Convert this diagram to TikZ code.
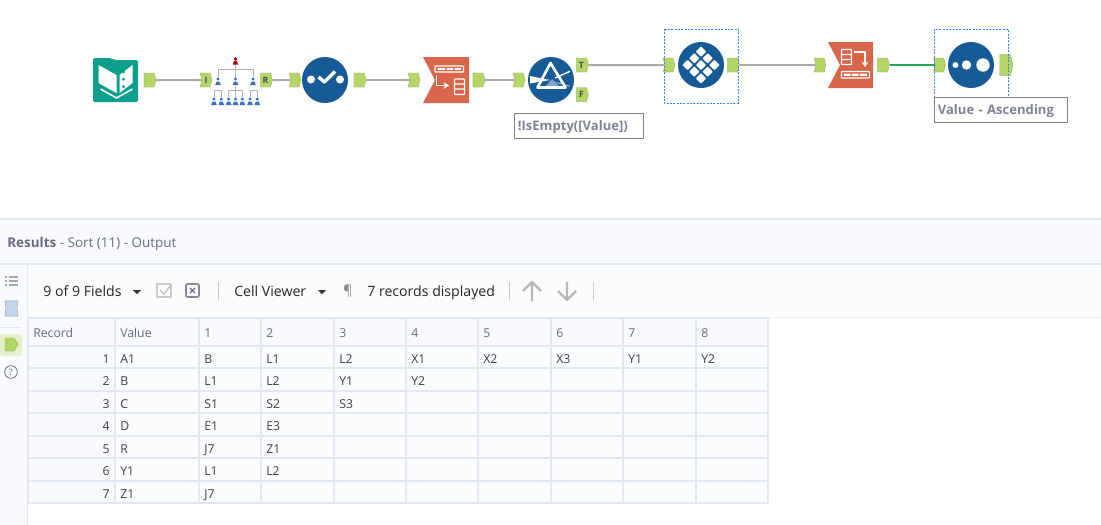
\documentclass[tikz,border=0pt]{standalone}
\usepackage{fontspec}
\setmainfont{Open Sans}
\usetikzlibrary{shapes.symbols,arrows.meta}
\definecolor{anchorgreen}{HTML}{B5D568}
\definecolor{toolblue}{HTML}{165A96}
\definecolor{toolorange}{HTML}{D9654A}
\definecolor{toolteal}{HTML}{0E9E8C}
\definecolor{linegray}{HTML}{ABABAB}
\definecolor{panelline}{HTML}{E2E8F3}
\definecolor{panelbg}{HTML}{F8FAFE}
\definecolor{celltext}{HTML}{3E3E4A}
\definecolor{headtext}{HTML}{666D80}
\definecolor{iconblue}{HTML}{3F6FBF}
\definecolor{wiregreen}{HTML}{2CA55C}
\tikzset{
	inanchor/.style={signal,signal from=west,signal pointer angle=150,fill=anchorgreen,draw=anchorgreen!80!black,line width=.2pt,minimum width=9pt,minimum height=10.5pt,inner sep=0pt,font=\fontsize{6.5}{6.5}\selectfont\bfseries,text=black!70},
	outanchor/.style={signal,signal to=east,signal pointer angle=150,fill=anchorgreen,draw=anchorgreen!80!black,line width=.2pt,minimum width=9pt,minimum height=10.5pt,inner sep=0pt,font=\fontsize{6.5}{6.5}\selectfont\bfseries,text=black!70},
	toolcircle/.style={circle,fill=toolblue,minimum size=34.5pt,inner sep=0pt},
	wire/.style={linegray,line width=1.5pt},
	selbox/.style={draw=blue!60!cyan!80,dashed,dash pattern=on 1.5pt off 1pt,line width=.6pt},
	notebox/.style={draw=black!50,line width=.8pt,fill=white,font=\fontsize{9.8}{11}\selectfont\bfseries,text=headtext!85,anchor=north west,inner sep=1.5pt,text height=9pt,text depth=2.5pt},
	celltxt/.style={font=\fontsize{9.2}{10}\selectfont,text=celltext},
	tooltxt/.style={font=\fontsize{10.6}{12}\selectfont,text=black!85,inner sep=0pt,anchor=base west},
	person/.style={fill=iconblue},
	bar/.style={draw=white,line width=1pt,rounded corners=.5pt}
}
\begin{document}
\begin{tikzpicture}[x=.75pt,y=-.75pt,line join=round]
	\useasboundingbox (0,0) rectangle (1101,525);
	\fill[white] (0,0) rectangle (1101,525);
	% panel
	\fill[panelbg] (0,219) rectangle (1101,525);
	\fill[white!50!panelbg] (28,265) rectangle (1101,317);
	\fill[white] (28,317) rectangle (1101,525);
	\draw[panelline,line width=1.5pt] (0,219)--(1101,219);
	\draw[panelline,line width=1pt] (0,264)--(1101,264);
	\draw[panelline,line width=.7pt] (27,265)--(27,525);
	\draw[panelline!60,line width=.6pt] (27,317)--(1101,317);
	\node[anchor=base west,inner sep=0pt,font=\fontsize{10.1}{12}\selectfont,text=headtext] (title) at (7,247) {\textbf{Results} - Sort (11) - Output};
	% side icons
	\foreach \y in {277,281,285} {
		\draw[headtext!60,line width=.8pt] (5,\y)--(6.5,\y) (8.5,\y)--(18,\y);
	}
	\fill[iconblue!30,draw=headtext!60,line width=.4pt] (5,301)--(18,301)--(17,308)--(18,316)--(5,316)--(6,308)--cycle;
	\draw[panelline] (0,327)--(21,327);
	\fill[anchorgreen!35,rounded corners=2pt] (0,334) rectangle (22,356);
	\fill[anchorgreen,draw=anchorgreen!80!black,line width=.3pt] (5,338)--(14,338)--(18,344)--(14,351)--(5,351)--cycle;
	\node[circle,draw=headtext,line width=.6pt,minimum size=9.5pt,inner sep=0pt,font=\fontsize{6.5}{7}\selectfont,text=headtext] (help) at (11,372) {?};
	% toolbar
	\node[tooltxt] (fields) at (43,296) {9 of 9 Fields};
	\fill[black!80] (133,290)--(141,290)--(137,294)--cycle;
	\draw[black!20,line width=1pt] (157,284) rectangle (171,297);
	\draw[black!25,line width=1pt] (160,290)--(164,294)--(171,285);
	\draw[headtext!80,line width=1.2pt,rounded corners=1pt] (186,284) rectangle (199,297);
	\draw[headtext,line width=1pt] (190,288)--(195,293) (195,288)--(190,293);
	\draw[black!20] (218,282)--(218,300);
	\node[tooltxt] (viewer) at (234,296) {Cell Viewer};
	\fill[black!80] (318,290)--(326,290)--(322,294)--cycle;
	\node[font=\fontsize{10.5}{12}\selectfont,text=black!45] (pilcrow) at (348,291) {¶};
	\node[tooltxt] (records) at (367,296) {7 records displayed};
	\draw[black!20] (509,282)--(509,300);
	\draw[black!28,line width=1.7pt] (532,301)--(532,282) (523,291)--(532,282)--(541,291);
	\draw[black!28,line width=1.7pt] (567,282)--(567,300) (558,291)--(567,300)--(576,291);
	\draw[black!20] (593,282)--(593,300);
	% table
	\fill[white!50!panelbg] (115,346) rectangle (768,503);
	\fill[panelbg] (28,319) rectangle (768,345);
	\fill[panelbg] (28,345) rectangle (115,503);
	\foreach \x in {28,115,199,261,334,406,478,551,623,696,768}
		\draw[panelline,line width=1.5pt] (\x,318)--(\x,503);
	\foreach \y in {318,346,368,391,413,436,458,481,503}
		\draw[panelline,line width=1.5pt] (28,\y)--(768,\y);
	\foreach \x/\lab in {33/Record,120/Value,204/1,266/2,339/3,411/4,483/5,556/6,628/7,701/8}
		\node[anchor=base west,inner sep=0pt,celltxt,text=headtext] at (\x,337) {\lab};
	\foreach \y/\num/\val in {363/1/A1,385/2/B,408/3/C,430/4/D,453/5/R,475/6/Y1,498/7/Z1} {
		\node[anchor=base east,inner sep=0pt,celltxt] at (110,\y) {\num};
		\node[anchor=base west,inner sep=0pt,celltxt] at (120,\y) {\val};
	}
	\foreach \x/\y/\val in {204/363/B,266/363/L1,339/363/L2,411/363/X1,483/363/X2,556/363/X3,628/363/Y1,701/363/Y2,
		204/385/L1,266/385/L2,339/385/Y1,411/385/Y2,
		204/408/S1,266/408/S2,339/408/S3,
		204/430/E1,266/430/E3,
		204/453/J7,266/453/Z1,
		204/475/L1,266/475/L2,
		204/498/J7}
		\node[anchor=base west,inner sep=0pt,celltxt] at (\x,\y) {\val};
	% workflow tools
	\node[minimum width=33.75pt,minimum height=33pt,inner sep=0pt] (input) at (115.5,80) {};
	\fill[toolteal,rounded corners=1.5pt] (93,58)--(111,58)--(114,60)--(138,60)--(138,102)--(93,102)--cycle;
	\begin{scope}[shift={(input.center)}]
		\fill[white] (-17,-15)--(1,-5)--(1,13)--(-17,3)--cycle;
		\fill[white] (4,-5)--(17,-15)--(17,3)--(4,13)--cycle;
		\fill[toolteal] (8,-8) circle(1.6) (8,-.7) circle(1.6) (8,6.7) circle(1.6);
		\draw[white,line width=1.1pt] (-15,9)--(1,18)--(17,9);
	\end{scope}
	\node[minimum width=36pt,minimum height=33pt,inner sep=0pt] (tree) at (235.5,80) {};
	\begin{scope}[black!30,line width=.6pt]
		\draw (235.5,64)--(235.5,78) (218,77)--(218,69)--(253,69)--(253,77);
		\draw (214,97)--(214,90)--(221,90)--(221,97) (228.7,97)--(228.7,90)--(242.3,90)--(242.3,97) (235.5,86)--(235.5,97) (250,97)--(250,90)--(257,90)--(257,97);
	\end{scope}
	\fill[red!65!black] (235.5,59) circle(1.8) (233,64.5)--(238,64.5)--(237,61)--(234,61)--cycle;
	\foreach \x/\y in {218/81.5,235.5/81.5,253/81.5,214/101.5,221.3/101.5,228.7/101.5,235.5/101.5,242.3/101.5,250/101.5,257.3/101.5}
		\fill[person] (\x,\y-2.5) circle(1.7) (\x-2.8,\y+3.5)--(\x+2.8,\y+3.5)--(\x+1.5,\y)--(\x-1.5,\y)--cycle;
	\node[toolcircle] (check) at (325,80) {};
	\fill[white] (311,79.5) circle(4) (340,79.5) circle(4);
	\draw[white,line width=2.6pt] (318.5,77)--(324.5,82)--(335,71.5);
	\node[minimum width=34.5pt,minimum height=34.5pt,inner sep=0pt] (crosstab) at (446,80) {};
	\fill[toolorange] (423,57)--(469,57)--(469,103)--(423,103)--(435,80)--cycle;
	\begin{scope}[shift={(crosstab.center)}]
		\draw[bar] (-11,-14) rectangle (17.5,-8);
		\fill[white] (-8.5,-12) rectangle (-1,-10) (.5,-12) rectangle (7,-10) (8.5,-12) rectangle (15,-10);
		\draw[white,line width=1.3pt,-{Stealth[length=4pt,width=5pt]}] (-9.5,-5.5)--(-9.5,5.5)--(3,5.5);
		\draw[bar] (8.5,-1) rectangle (18.5,14.5) (8.5,4) -- (18.5,4) (8.5,9)--(18.5,9);
	\end{scope}
	\node[toolcircle] (filter) at (551,80) {};
	\fill[toolblue!55!white] (545,87)--(552,79)--(560,87)--cycle;
	\draw[white,line width=2pt] (550.5,63)--(537.5,87.5)--(565.5,87.5)--cycle;
	\fill[white] (530,76)--(550,80)--(530,83.5)--cycle;
	\draw[white,line width=1.1pt] (555,78)--(570,71.3);
	\draw[white!80!toolblue,line width=.5pt] (556.5,82.5)--(570,86.3);
	\node[toolcircle] (grid) at (701,65) {};
	\foreach \i in {-1,0,1}
		\foreach \j in {-1,0,1}
			\fill[white,rounded corners=.5pt] (701+6.7*\i-6.7*\j-5.2,65+6.7*\i+6.7*\j)--++(5.2,-5.2)--++(5.2,5.2)--++(-5.2,5.2)--cycle;
	\node[minimum width=34.5pt,minimum height=34.5pt,inner sep=0pt] (arrange) at (850.5,65) {};
	\fill[toolorange] (828,42)--(873,42)--(873,88)--(828,88)--(840,65)--cycle;
	\begin{scope}[shift={(arrange.center)}]
		\draw[bar] (-9,-15.5) rectangle (1,-.5) (-9,-10.5)--(1,-10.5) (-9,-5.5)--(1,-5.5);
		\draw[white,line width=1.3pt,-{Stealth[length=4pt,width=5pt]}] (3,-13)--(14.5,-13)--(14.5,2);
		\draw[bar] (-9,6.5) rectangle (19,13);
		\fill[white] (-6.5,8.7) rectangle (0,10.8) (1.5,8.7) rectangle (8,10.8) (9.5,8.7) rectangle (16.5,10.8);
	\end{scope}
	\node[toolcircle] (sort) at (971,65) {};
	\fill[white] (955.5,65) circle(3) (966.5,65) circle(4.7) (983,65) circle(6.7);
	% anchors
	\node[outanchor] (inputout) at (149,80) {};
	\node[inanchor] (treein) at (206,80) {I};
	\node[outanchor] (treeout) at (265.5,80) {R};
	\node[inanchor] (checkin) at (295,80) {};
	\node[outanchor] (checkout) at (359,80) {};
	\node[inanchor] (crossin) at (414,80) {};
	\node[outanchor] (crossout) at (478,80) {};
	\node[inanchor] (filterin) at (519,80) {};
	\node[outanchor] (filtertrue) at (581.5,65) {T};
	\node[outanchor] (filterfalse) at (581.5,94.5) {F};
	\node[inanchor] (gridin) at (669,65) {};
	\node[outanchor] (gridout) at (732.5,65) {};
	\node[inanchor] (arrangein) at (820,65) {};
	\node[outanchor] (arrangeout) at (882.5,65) {};
	\node[inanchor] (sortin) at (939.5,65) {};
	\node[outanchor,minimum width=10pt,minimum height=16pt] (sortout) at (1005,65) {};
	% connectors
	\draw[wire] (inputout)--(treein);
	\draw[wire] (treeout)--(checkin);
	\draw[wire] (checkout)--(crossin);
	\draw[wire] (crossout)--(filterin);
	\draw[wire] (filtertrue)--(gridin);
	\draw[wire] (gridout)--(arrangein);
	\draw[wire,draw=wiregreen] (arrangeout)--(sortin);
	% selection and annotations
	\draw[selbox] (664,29) rectangle (738,103);
	\draw[selbox] (934,29) rectangle (1008,97);
	\node[notebox,minimum width=97pt,minimum height=19pt,text width=92pt] (filternote) at (514,113) {!IsEmpty([Value])};
	\node[notebox,minimum width=100pt,minimum height=19pt,text width=95pt] (sortnote) at (934,97) {Value - Ascending};
\end{tikzpicture}
\end{document}
